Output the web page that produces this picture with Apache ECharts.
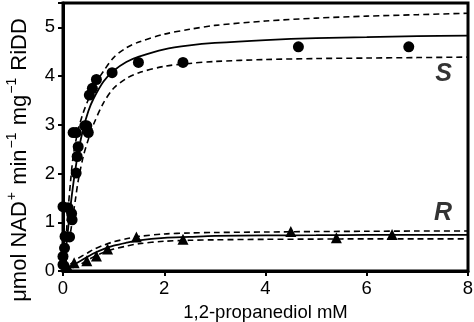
<!DOCTYPE html>
<html>
<head>
<meta charset="utf-8">
<script src="https://cdn.jsdelivr.net/npm/echarts@6/dist/echarts.min.js"></script>
<style>
  html, body { margin: 0; padding: 0; background: #fff; }
  #chart { width: 474px; height: 322px; }
</style>
</head>
<body>
<div id="chart"></div>
<script>
// Measured rates for the S and R enantiomers of 1,2-propanediol
const sPoints = [
  [0.00, 0.13], [0.00, 0.30], [0.03, 0.47], [0.04, 0.71], [0.13, 0.70],
  [0.00, 1.32], [0.10, 1.30], [0.17, 1.18], [0.18, 1.05],
  [0.26, 2.01], [0.28, 2.35], [0.30, 2.55], [0.20, 2.84], [0.26, 2.84],
  [0.43, 2.98], [0.47, 2.98], [0.50, 2.84], [0.52, 3.61], [0.58, 3.75],
  [0.66, 3.93], [0.97, 4.07], [1.49, 4.28], [2.37, 4.28], [4.65, 4.60], [6.83, 4.60]
];
const rPoints = [
  [0.10, 0.07], [0.22, 0.17], [0.47, 0.21], [0.66, 0.31], [0.88, 0.45],
  [1.45, 0.70], [2.37, 0.65], [4.50, 0.81], [5.40, 0.68], [6.50, 0.75]
];

// Fitted curves and their confidence bands, sampled along the concentration axis
const fitX = [0, 0.05, 0.1, 0.15, 0.2, 0.25, 0.3, 0.4, 0.5, 0.6, 0.8, 1, 1.25, 1.5, 2, 2.5, 3, 4, 5, 6, 7, 8];
const sFit   = [0, 0.36, 0.86, 1.34, 1.76, 2.12, 2.44, 2.92, 3.28, 3.53, 3.89, 4.11, 4.29, 4.40, 4.55, 4.63, 4.68, 4.74, 4.78, 4.80, 4.82, 4.83];
const sUpper = [0, 0.55, 1.25, 1.85, 2.35, 2.65, 2.90, 3.25, 3.52, 3.78, 4.10, 4.38, 4.58, 4.70, 4.86, 4.96, 5.04, 5.13, 5.19, 5.23, 5.26, 5.29];
const sLower = [0, 0.15, 0.45, 0.80, 1.15, 1.50, 1.85, 2.35, 2.70, 3.00, 3.45, 3.75, 3.95, 4.07, 4.20, 4.26, 4.30, 4.34, 4.36, 4.37, 4.38, 4.39];
const rFit   = [0, 0.03, 0.06, 0.09, 0.12, 0.15, 0.18, 0.24, 0.30, 0.36, 0.45, 0.52, 0.58, 0.63, 0.68, 0.70, 0.72, 0.73, 0.735, 0.74, 0.74, 0.74];
const rUpper = [0, 0.05, 0.10, 0.14, 0.18, 0.22, 0.26, 0.32, 0.38, 0.44, 0.53, 0.60, 0.66, 0.71, 0.76, 0.78, 0.79, 0.80, 0.81, 0.815, 0.82, 0.82];
const rLower = [0, 0.01, 0.03, 0.05, 0.07, 0.09, 0.11, 0.17, 0.23, 0.29, 0.38, 0.45, 0.51, 0.56, 0.61, 0.63, 0.64, 0.65, 0.655, 0.66, 0.66, 0.66];

const xTicks = [0, 2, 4, 6, 8];
const yTicks = [0, 1, 2, 3, 4, 5];
const enantiomerLabels = [{ text: 'S', x: 8, y: 4.05 }, { text: 'R', x: 8, y: 1.18 }];
const xTitle = '1,2-propanediol mM';
const yTitle = '{a|μmol NAD}{s|+}{a| min}{s|−1}{a| mg}{s|−1}{a| RiDD}';

const FONT = '"Liberation Sans", Arial, sans-serif';

function pairs(xs, ys) { return xs.map((x, i) => [x, ys[i]]); }

function curve(ys, dashed) {
  return {
    type: 'line', data: pairs(fitX, ys), smooth: 0.3, showSymbol: false, silent: true,
    lineStyle: { color: '#000', width: dashed ? 1.6 : 1.8, type: dashed ? [6, 4] : 'solid' },
    z: 2
  };
}

const chart = echarts.init(document.getElementById('chart'), null, { renderer: 'canvas' });
chart.setOption({
  animation: false,
  backgroundColor: '#fff',
  textStyle: { fontFamily: FONT },
  grid: {
    left: 63, right: 6, top: 3, bottom: 51, containLabel: false, outerBoundsMode: 'none',
    show: true, borderColor: '#000', borderWidth: 3, backgroundColor: 'transparent'
  },
  // rotated y-axis title with superscripted units
  graphic: [{
    type: 'text', x: 18, y: 160, rotation: Math.PI / 2, silent: true,
    style: {
      text: yTitle, align: 'center', verticalAlign: 'middle', fill: '#000', fontFamily: FONT,
      rich: {
        a: { fontSize: 22, fill: '#000', fontFamily: FONT, lineHeight: 26, verticalAlign: 'bottom' },
        s: { fontSize: 14, fill: '#000', fontFamily: FONT, lineHeight: 26, verticalAlign: 'top', padding: [0, 1, 0, 1] }
      }
    }
  }],
  xAxis: {
    type: 'value', min: 0, max: 8, interval: 2,
    name: xTitle, nameLocation: 'middle', nameGap: 32,
    nameTextStyle: { color: '#000', fontSize: 18.5, fontFamily: FONT },
    axisLine: { show: true, lineStyle: { color: '#000', width: 3 } },
    axisTick: { show: true, inside: false, length: 5, lineStyle: { color: '#000', width: 2 } },
    axisLabel: { color: '#000', fontSize: 18.5, margin: 8, fontFamily: FONT,
      formatter: v => xTicks.includes(v) ? String(v) : '' },
    splitLine: { show: false }
  },
  yAxis: {
    type: 'value', min: 0, max: 5.5, interval: 1,
    axisLine: { show: true, lineStyle: { color: '#000', width: 3 } },
    axisTick: { show: true, inside: false, length: 5, lineStyle: { color: '#000', width: 2 } },
    axisLabel: { color: '#000', fontSize: 18.5, margin: 8, fontFamily: FONT,
      formatter: v => yTicks.includes(v) ? String(v) : '' },
    splitLine: { show: false }
  },
  series: [
    curve(sFit, false), curve(sUpper, true), curve(sLower, true),
    curve(rFit, false), curve(rUpper, true), curve(rLower, true),
    {
      type: 'scatter', data: sPoints, symbol: 'circle', symbolSize: 11,
      itemStyle: { color: '#000', opacity: 1 }, z: 3
    },
    {
      type: 'scatter', data: rPoints, symbol: 'triangle', symbolSize: 11,
      itemStyle: { color: '#000', opacity: 1 }, z: 3
    },
    {
      type: 'scatter', data: enantiomerLabels.map(d => [d.x, d.y, d.text]),
      symbolSize: 0, silent: true, z: 4,
      label: {
        show: true, position: 'left', distance: 16,
        formatter: p => p.data[2],
        color: '#000', fontSize: 25, fontWeight: 'bold', fontStyle: 'italic', fontFamily: FONT
      }
    }
  ]
});
</script>
</body>
</html>
